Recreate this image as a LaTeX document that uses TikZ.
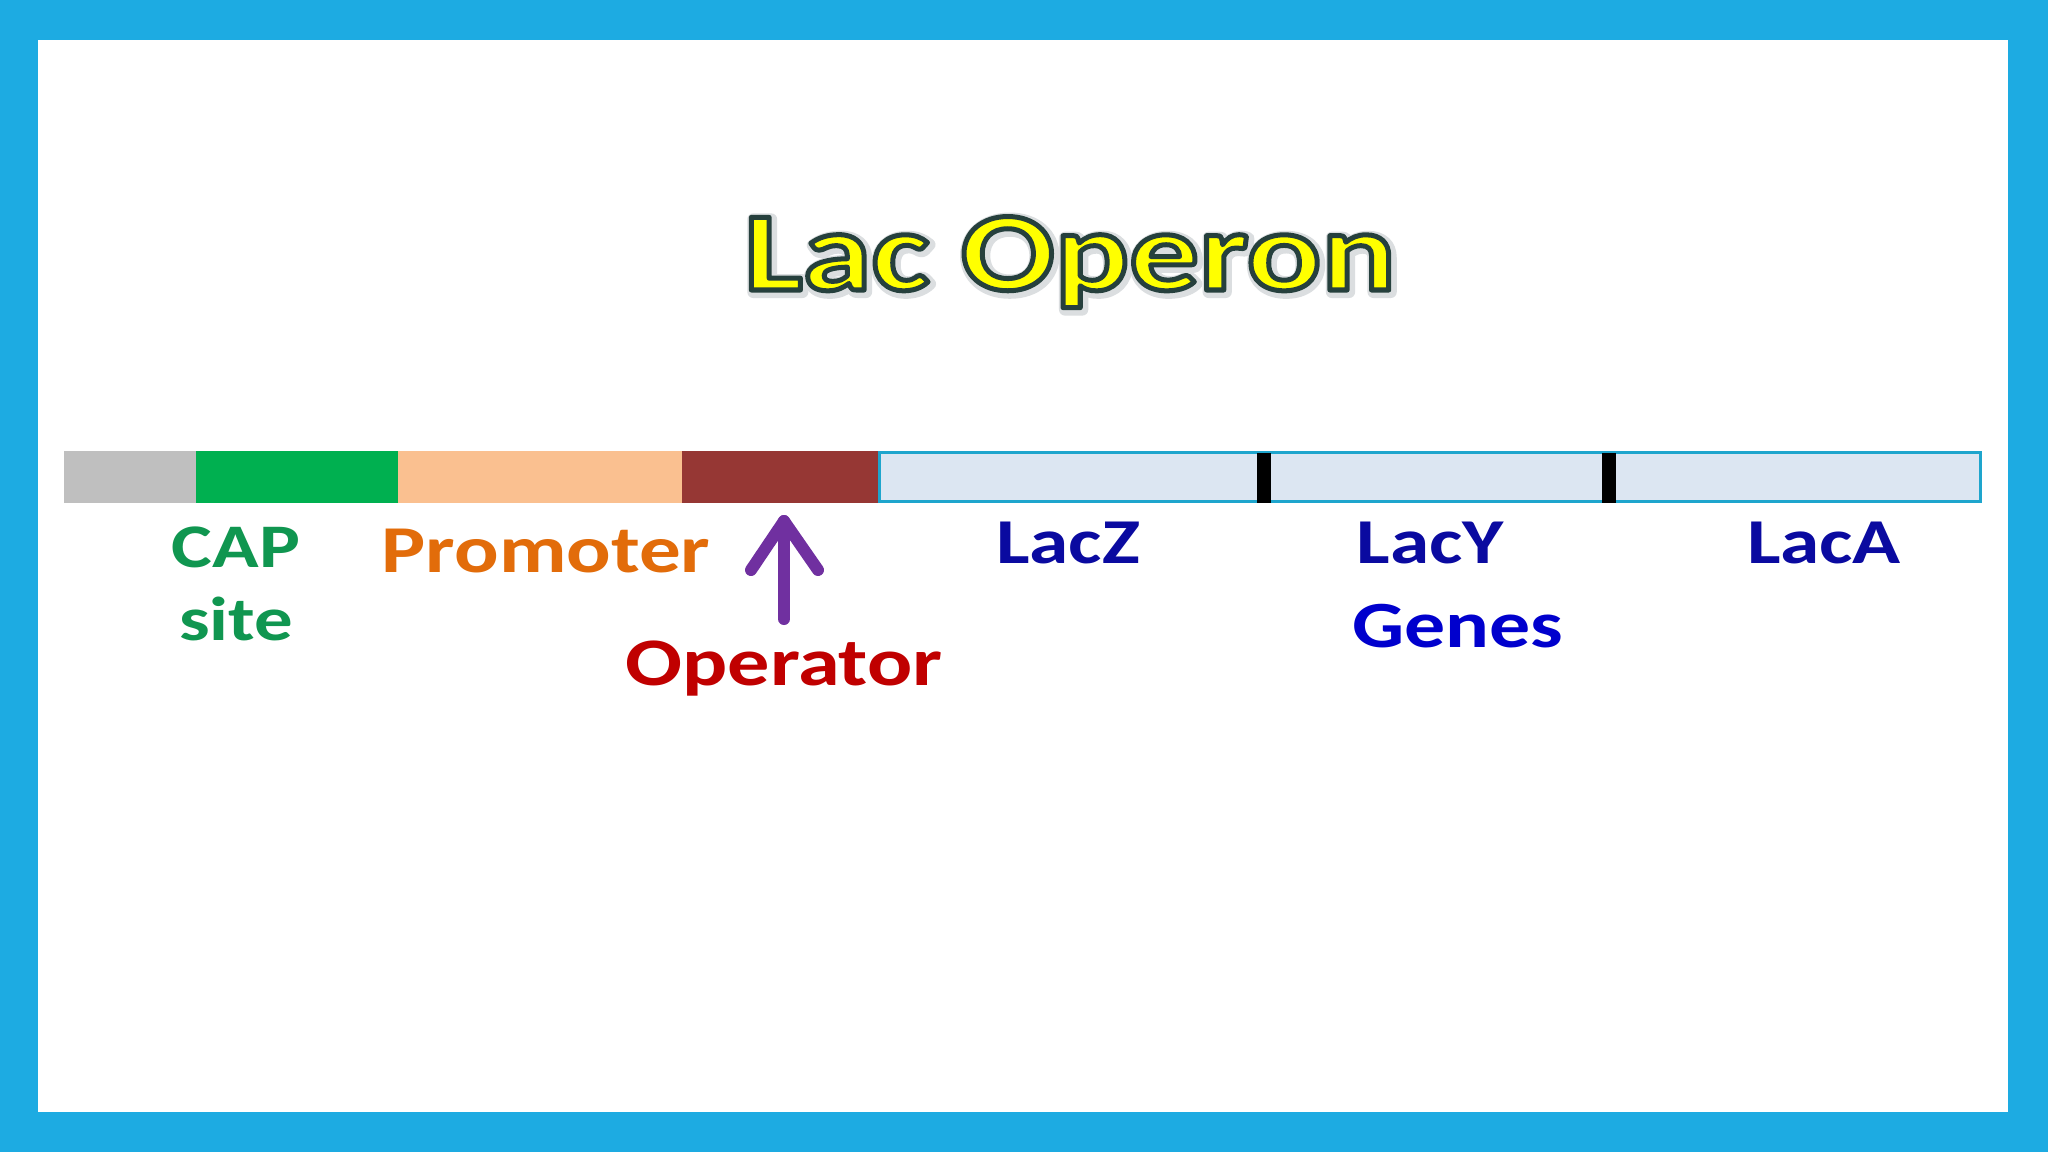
\documentclass[tikz,border=0pt]{standalone}
\usepackage{fontspec}
\usetikzlibrary{calc}
\setmainfont{Carlito}[FakeStretch=1.24]
\definecolor{frameblue}{RGB}{29,171,226}
\definecolor{lgray}{RGB}{191,191,191}
\definecolor{cgreen}{RGB}{0,176,80}
\definecolor{peach}{RGB}{250,192,144}
\definecolor{opred}{RGB}{150,55,52}
\definecolor{lblue}{RGB}{220,230,242}
\definecolor{bordercyan}{RGB}{30,165,205}
\definecolor{capgreen}{RGB}{16,150,80}
\definecolor{promorange}{RGB}{226,108,10}
\definecolor{operred}{RGB}{192,0,0}
\definecolor{arrowpurple}{RGB}{112,48,160}
\definecolor{genenavy}{RGB}{10,10,160}
\definecolor{genesblue}{RGB}{0,0,205}
\definecolor{titleyellow}{RGB}{255,255,0}
\newcommand{\outlinedtext}[1]{\special{pdf:literal 2 Tr 5 w 1 j 0.15 0.25 0.24 RG}#1\special{pdf:literal 0 Tr 0.4 w 0 j}}
\newcommand{\glowtext}[1]{\special{pdf:literal 1 Tr 12 w 1 j 0.86 0.87 0.88 RG}#1\special{pdf:literal 0 Tr 0.4 w 0 j}}
\begin{document}
\begin{tikzpicture}[x=1pt,y=-1pt,
  lbl/.style={font=\bfseries, inner sep=0pt, anchor=base},
  seg/.style={inner sep=0pt, outer sep=0pt, anchor=north west},
  titlefont/.style={font=\fontsize{112}{120}\selectfont\bfseries, inner sep=0pt, anchor=base}]
\useasboundingbox (0,0) rectangle (2048,1152);
\fill[frameblue] (0,0) rectangle (2048,1152);
\fill[white] (38,40) rectangle (2008,1112);
% title with outline and soft glow
\node[titlefont, text=white] (titleglow) at (1072,292) {\glowtext{Lac Operon}};
\node[titlefont, text=titleyellow] (title) at (1070,290) {\outlinedtext{Lac Operon}};
% bar segments
\node[seg, fill=lgray, minimum width=132pt, minimum height=52pt] (gray) at (64,451) {};
\node[seg, fill=cgreen, minimum width=202pt, minimum height=52pt] (cap) at (196,451) {};
\node[seg, fill=peach, minimum width=284pt, minimum height=52pt] (prom) at (398,451) {};
\node[seg, fill=opred, minimum width=196pt, minimum height=52pt] (oper) at (682,451) {};
\node[seg, fill=lblue, draw=bordercyan, line width=3pt, minimum width=1101pt, minimum height=49pt] (genes) at (879.5,452.5) {};
\node[seg, fill=black, minimum width=14pt, minimum height=50pt] (div1) at (1257,452.5) {};
\node[seg, fill=black, minimum width=14pt, minimum height=50pt] (div2) at (1602,452.5) {};
% labels
\node[lbl, text=capgreen, font=\fontsize{62}{70}\selectfont\bfseries] (capl) at (236,567) {CAP};
\node[lbl, text=capgreen, font=\fontsize{62}{70}\selectfont\bfseries] (sitel) at (236,640) {site};
\node[lbl, text=promorange, font=\fontsize{67}{75}\selectfont\bfseries] (proml) at (546,572) {Promoter};
\node[lbl, text=operred, font=\fontsize{68}{75}\selectfont\bfseries] (operl) at (784,685) {Operator};
\node[lbl, text=genenavy, font=\fontsize{64}{72}\selectfont\bfseries] (lacz) at (1068,563) {LacZ};
\node[lbl, text=genenavy, font=\fontsize{64}{72}\selectfont\bfseries] (lacy) at (1430,563) {LacY};
\node[lbl, text=genesblue, font=\fontsize{66}{72}\selectfont\bfseries] (genesl) at (1458,647) {Genes};
\node[lbl, text=genenavy, font=\fontsize{64}{72}\selectfont\bfseries] (laca) at (1824,563) {LacA};
% arrow
\coordinate (atail) at (784,619);
\coordinate (atip) at (784,521);
\coordinate (awl) at (751,570);
\coordinate (awr) at (818,570);
\draw[arrowpurple, line width=12pt, line cap=round, line join=round] (atail) -- (atip);
\draw[arrowpurple, line width=12pt, line cap=round, line join=round] (awl) -- (atip) -- (awr);
\end{tikzpicture}
\end{document}
